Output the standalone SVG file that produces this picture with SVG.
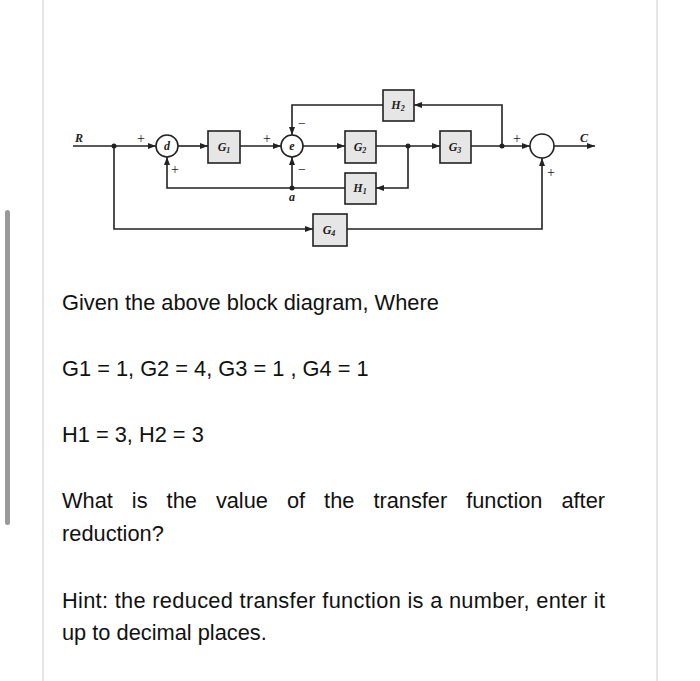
<svg xmlns="http://www.w3.org/2000/svg" width="700" height="681" viewBox="0 0 700 681">
<style>
.l{stroke:#222;stroke-width:1.6;fill:none}
.b{fill:#e6e6e6;stroke:#222;stroke-width:1.6}
.s{fill:#fff;stroke:#222;stroke-width:1.6}
.g{font-family:"Liberation Serif",serif;font-style:italic;font-weight:bold;font-size:12px;fill:#222}
.p{font-family:"Liberation Serif",serif;font-size:14px;fill:#222}
.t{font-family:"Liberation Sans",Arial,sans-serif;font-size:21.8px;fill:#111}
</style>
<defs><marker id="a" markerWidth="8" markerHeight="6" refX="8" refY="3" orient="auto" markerUnits="userSpaceOnUse"><path d="M0,0L8,3L0,6z" fill="#222"/></marker></defs>
<rect width="700" height="681" fill="#fff"/>
<line x1="43" y1="0" x2="43" y2="681" stroke="#ccc"/>
<line x1="657" y1="0" x2="657" y2="681" stroke="#ccc"/>
<rect x="5" y="210" width="5" height="315" rx="2.5" fill="#999"/>
<g id="connectors">
<path class="l" d="M73,146H156" marker-end="url(#a)"/>
<path class="l" d="M178,146H208" marker-end="url(#a)"/>
<path class="l" d="M240,146H281" marker-end="url(#a)"/>
<path class="l" d="M303,146H345" marker-end="url(#a)"/>
<path class="l" d="M376,146H440" marker-end="url(#a)"/>
<path class="l" d="M471,146H530" marker-end="url(#a)"/>
<path class="l" d="M554,146H595" marker-end="url(#a)"/>
<path class="l" d="M502,146V105H414" marker-end="url(#a)"/>
<path class="l" d="M383,105H292V135" marker-end="url(#a)"/>
<path class="l" d="M408,146V188H376" marker-end="url(#a)"/>
<path class="l" d="M345,188H292V157" marker-end="url(#a)"/>
<path class="l" d="M292,188H167V157" marker-end="url(#a)"/>
<path class="l" d="M114,146V229H313" marker-end="url(#a)"/>
<path class="l" d="M347,229H542V158" marker-end="url(#a)"/>
<circle cx="114" cy="146" r="2.5" fill="#222"/>
<circle cx="292" cy="188" r="2.5" fill="#222"/>
<circle cx="408" cy="146" r="2.5" fill="#222"/>
<circle cx="502" cy="146" r="2.5" fill="#222"/>
</g>
<g id="d"><circle class="s" cx="167" cy="146" r="11"/><text class="g" x="167" y="150" text-anchor="middle" font-weight="normal">d</text></g>
<g id="e"><circle class="s" cx="292" cy="146" r="11"/><text class="g" x="292" y="150" text-anchor="middle" font-weight="normal" font-size="10">e</text></g>
<g id="sum3"><circle class="s" cx="542" cy="146" r="12"/></g>
<g id="G1"><rect class="b" x="208" y="131" width="32" height="32"/><text class="g" x="224" y="151" text-anchor="middle">G<tspan font-size="8" dy="2">1</tspan></text></g>
<g id="G2"><rect class="b" x="345" y="131" width="31" height="32"/><text class="g" x="360" y="151" text-anchor="middle">G<tspan font-size="8" dy="2">2</tspan></text></g>
<g id="G3"><rect class="b" x="440" y="131" width="31" height="32"/><text class="g" x="455" y="151" text-anchor="middle">G<tspan font-size="8" dy="2">3</tspan></text></g>
<g id="H1"><rect class="b" x="345" y="173" width="31" height="31"/><text class="g" x="360" y="192" text-anchor="middle">H<tspan font-size="8" dy="2">1</tspan></text></g>
<g id="H2"><rect class="b" x="383" y="90" width="31" height="31"/><text class="g" x="398" y="109" text-anchor="middle">H<tspan font-size="8" dy="2">2</tspan></text></g>
<g id="G4"><rect class="b" x="313" y="214" width="34" height="32"/><text class="g" x="329" y="234" text-anchor="middle">G<tspan font-size="8" dy="2">4</tspan></text></g>
<g id="labels">
<text class="g" x="75" y="142">R</text>
<text class="g" x="580" y="142">C</text>
<text class="g" x="292" y="201" text-anchor="middle" font-weight="normal" font-size="10">a</text>
<text class="p" x="137" y="143">+</text>
<text class="p" x="171" y="174">+</text>
<text class="p" x="263" y="143">+</text>
<text class="p" x="298" y="128">−</text>
<text class="p" x="298" y="174">−</text>
<text class="p" x="513" y="143">+</text>
<text class="p" x="547" y="177">+</text>
</g>
<text class="t" x="62" y="310">Given the above block diagram, Where</text>
<text class="t" x="62" y="376">G1 = 1, G2 = 4, G3 = 1 , G4 = 1</text>
<text class="t" x="62" y="442">H1 = 3, H2 = 3</text>
<text class="t" x="62" y="508" textLength="543" lengthAdjust="spacing" word-spacing="13">What is the value of the transfer function after</text>
<text class="t" x="62" y="541">reduction?</text>
<text class="t" x="62" y="608" textLength="543" lengthAdjust="spacing">Hint:  the reduced transfer function is a number, enter it</text>
<text class="t" x="62" y="640">up to decimal places.</text>
</svg>
